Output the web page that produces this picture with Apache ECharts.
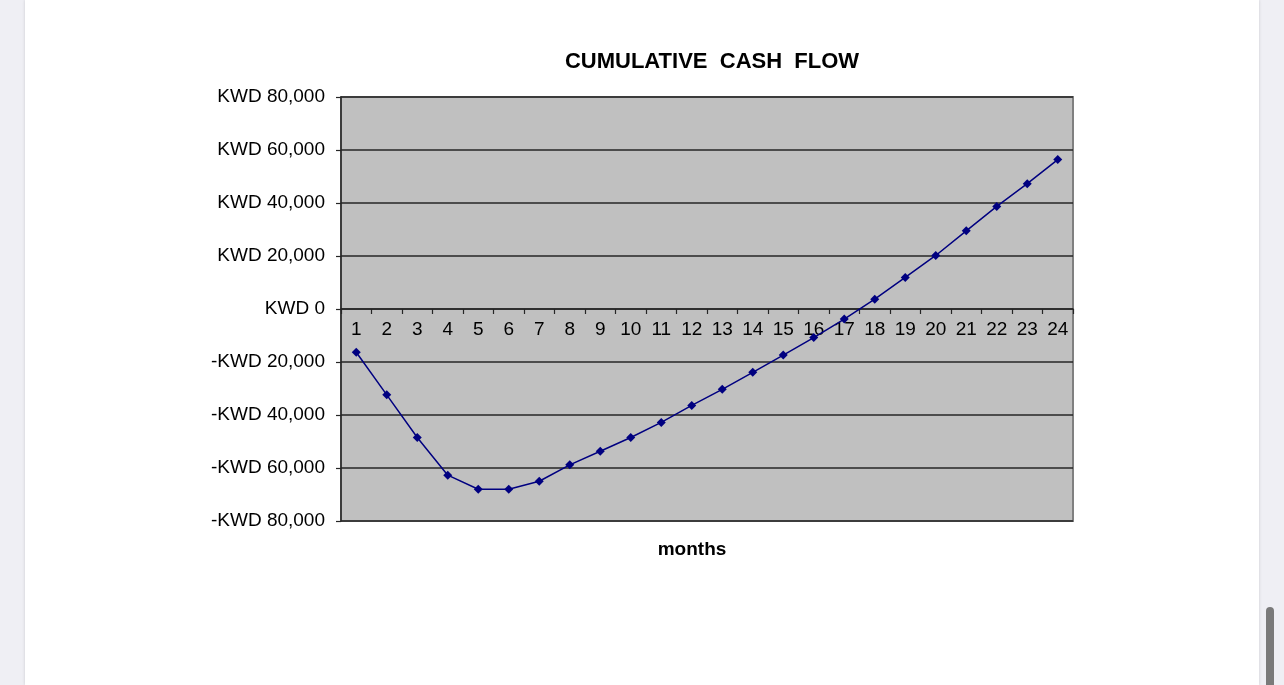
<!DOCTYPE html>
<html>
<head>
<meta charset="utf-8">
<script src="https://cdn.jsdelivr.net/npm/echarts@6/dist/echarts.min.js"></script>
<style>
  html, body { margin: 0; padding: 0; background: #efeff4; width: 1284px; height: 685px; overflow: hidden; }
  #page { position: absolute; left: 25px; top: 0; width: 1234px; height: 685px; background: #fff;
          box-shadow: 0 0 3px rgba(0,0,0,0.15); }
  #chart { position: absolute; left: 0; top: 0; width: 1284px; height: 685px; }
  #scroll { position: absolute; left: 1266px; top: 607px; width: 8px; height: 90px; border-radius: 4px; background: #7a7a7a; }
</style>
</head>
<body>
<div id="page"></div>
<div id="chart"></div>
<div id="scroll"></div>
<script>
// months 1..24
let months = ['1', '2', '3', '4', '5', '6', '7', '8', '9', '10', '11', '12',
    '13', '14', '15', '16', '17', '18', '19', '20', '21', '22', '23', '24'];
// cumulative cash flow, KWD
let cashFlow = [-16300, -32400, -48500, -62700, -68000, -68000, -65000, -58800,
    -53700, -48500, -42800, -36400, -30300, -23900, -17400, -10800,
    -3800, 3700, 11900, 20200, 29500, 38700, 47300, 56400];
let yTicks = { min: -80000, max: 80000, step: 20000 };

function kwd (v) {
    let s = 'KWD ' + Math.abs(v).toLocaleString('en-US');
    return v < 0 ? '-' + s : s;
}

let myChart = echarts.init(document.getElementById('chart'), null, { renderer: 'canvas' });
let font = 'Liberation Sans, Arial, sans-serif';
// grid: 341..1073 x 97..521, zero line sits at 309 -> category axis pulled up 212px
myChart.setOption({
    backgroundColor: 'transparent',
    animation: false,
    title: [{
        text: 'CUMULATIVE  CASH  FLOW',
        left: 707,
        top: 46,
        textAlign: 'center',
        textStyle: { fontFamily: font, fontSize: 22, fontWeight: 'bold', color: '#000' }
    }, {
        text: 'months',
        left: 687,
        top: 535,
        textAlign: 'center',
        textStyle: { fontFamily: font, fontSize: 19, fontWeight: 'bold', color: '#000' }
    }],
    grid: {
        left: 341, top: 97, right: 211, bottom: 164,
        outerBoundsMode: 'none',
        containLabel: false,
        show: true,
        backgroundColor: '#c0c0c0',
        borderColor: '#808080',
        borderWidth: 2
    },
    xAxis: {
        type: 'category',
        data: months,
        boundaryGap: true,
        position: 'bottom',
        offset: -212,
        axisLine: { onZero: false, lineStyle: { color: '#262626', width: 1.5 } },
        axisTick: { show: true, length: 5, lineStyle: { color: '#262626', width: 1.2 } },
        axisLabel: { fontFamily: font, fontSize: 19, color: '#000', margin: 11 },
        splitLine: { show: false }
    },
    yAxis: {
        type: 'value',
        min: yTicks.min,
        max: yTicks.max,
        interval: yTicks.step,
        axisLine: { show: true, lineStyle: { color: '#262626', width: 1.5 } },
        axisTick: { show: true, length: 5, lineStyle: { color: '#262626', width: 1.2 } },
        axisLabel: { fontFamily: font, fontSize: 19, color: '#000', margin: 16, formatter: kwd },
        splitLine: { show: true, lineStyle: { color: '#262626', width: 1.5 } }
    },
    series: [{
        name: 'cumulative cash flow',
        type: 'line',
        data: cashFlow,
        symbol: 'diamond',
        symbolSize: 9,
        lineStyle: { color: '#000080', width: 1.5 },
        itemStyle: { color: '#000080' }
    }]
});
</script>
</body>
</html>
